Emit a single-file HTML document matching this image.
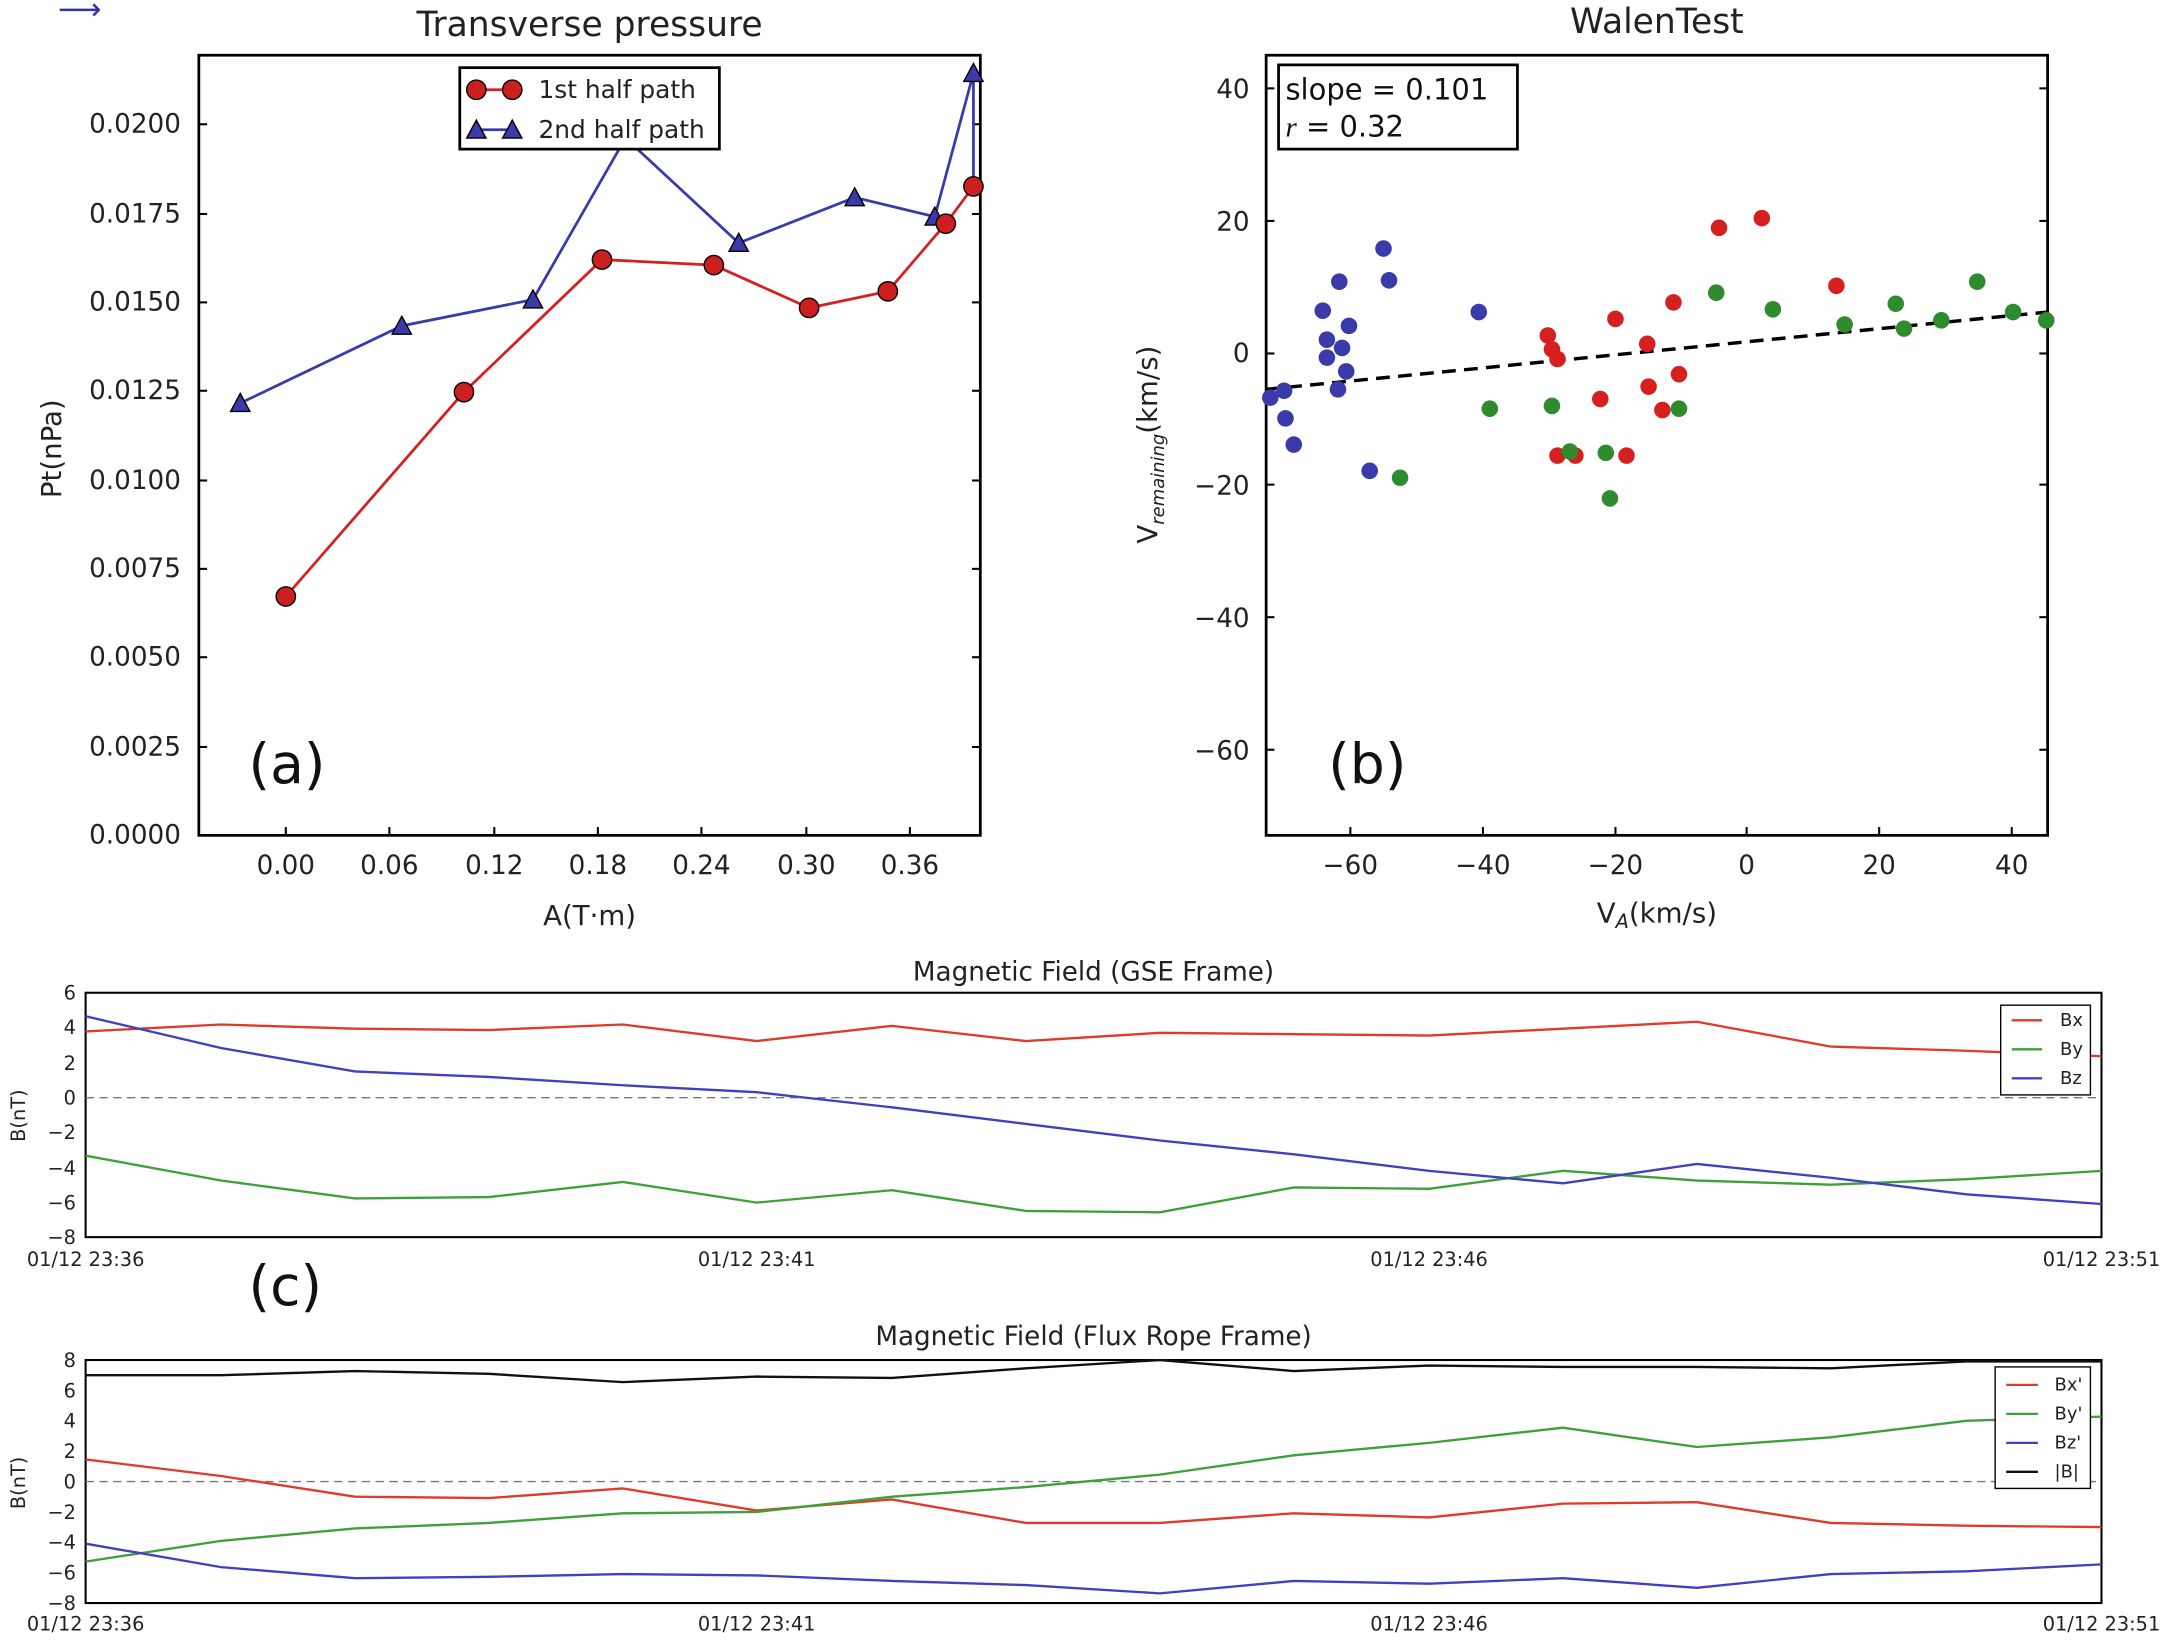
<!DOCTYPE html>
<html><head><meta charset="utf-8"><style>html,body{margin:0;padding:0;background:#fff}svg{display:block}text{font-family:"DejaVu Sans","Liberation Sans",sans-serif}</style></head>
<body>
<svg width="2165" height="1641" viewBox="0 0 1568 1188.5" xmlns="http://www.w3.org/2000/svg">
<rect width="1568" height="1188.5" fill="#fff"/>
<text x="42" y="14" font-size="22" fill="#3333aa">⟶</text>
<!-- Panel a -->
<text x="427" y="26" font-size="25" text-anchor="middle" fill="#222">Transverse pressure</text>
<rect x="144" y="40" width="566" height="565" fill="none" stroke="#000" stroke-width="2"/>
<g font-size="19" fill="#222" text-anchor="end">
<text x="131" y="611">0.0000</text><text x="131" y="547">0.0025</text><text x="131" y="482">0.0050</text><text x="131" y="418">0.0075</text><text x="131" y="354">0.0100</text><text x="131" y="289">0.0125</text><text x="131" y="225">0.0150</text><text x="131" y="161">0.0175</text><text x="131" y="96">0.0200</text>
</g>
<g stroke="#000" stroke-width="1.5">
<line x1="144" y1="541" x2="150" y2="541"/><line x1="144" y1="476" x2="150" y2="476"/><line x1="144" y1="412" x2="150" y2="412"/><line x1="144" y1="348" x2="150" y2="348"/><line x1="144" y1="283" x2="150" y2="283"/><line x1="144" y1="219" x2="150" y2="219"/><line x1="144" y1="155" x2="150" y2="155"/><line x1="144" y1="90" x2="150" y2="90"/>
<line x1="704" y1="541" x2="710" y2="541"/><line x1="704" y1="476" x2="710" y2="476"/><line x1="704" y1="412" x2="710" y2="412"/><line x1="704" y1="348" x2="710" y2="348"/><line x1="704" y1="283" x2="710" y2="283"/><line x1="704" y1="219" x2="710" y2="219"/><line x1="704" y1="155" x2="710" y2="155"/><line x1="704" y1="90" x2="710" y2="90"/>
<line x1="207" y1="605" x2="207" y2="599"/><line x1="282" y1="605" x2="282" y2="599"/><line x1="358" y1="605" x2="358" y2="599"/><line x1="433" y1="605" x2="433" y2="599"/><line x1="508" y1="605" x2="508" y2="599"/><line x1="584" y1="605" x2="584" y2="599"/><line x1="659" y1="605" x2="659" y2="599"/>
</g>
<g font-size="19" fill="#222" text-anchor="middle">
<text x="207" y="633">0.00</text><text x="282" y="633">0.06</text><text x="358" y="633">0.12</text><text x="433" y="633">0.18</text><text x="508" y="633">0.24</text><text x="584" y="633">0.30</text><text x="659" y="633">0.36</text>
<text x="427" y="670" font-size="20">A(T·m)</text>
</g>
<text transform="translate(44,325) rotate(-90)" font-size="20" text-anchor="middle" fill="#222">Pt(nPa)</text>
<polyline fill="none" stroke="#3a3aaa" stroke-width="2" points="174,292 291,236 386,217 453,100 535,176 619,143 677,157 705,53 705,135"/>
<g fill="#3a3aaa" stroke="#000" stroke-width="1">
<polygon points="174,285 181,298 167,298"/><polygon points="291,229 298,242 284,242"/><polygon points="386,210 393,223 379,223"/><polygon points="535,169 542,182 528,182"/><polygon points="619,136 626,149 612,149"/><polygon points="677,150 684,163 670,163"/><polygon points="705,46 712,59 698,59"/>
</g>
<polyline fill="none" stroke="#d62020" stroke-width="2" points="207,432 336,284 436,188 517,192 586,223 643,211 685,162 705,135"/>
<g fill="#cc1f1f" stroke="#000" stroke-width="1">
<circle cx="207" cy="432" r="7"/><circle cx="336" cy="284" r="7"/><circle cx="436" cy="188" r="7"/><circle cx="517" cy="192" r="7"/><circle cx="586" cy="223" r="7"/><circle cx="643" cy="211" r="7"/><circle cx="685" cy="162" r="7"/><circle cx="705" cy="135" r="7"/>
</g>
<rect x="333" y="49" width="188" height="59" fill="#fff" stroke="#000" stroke-width="2"/>
<line x1="343" y1="65" x2="373" y2="65" stroke="#d62020" stroke-width="2"/><circle cx="345" cy="65" r="7" fill="#cc1f1f" stroke="#000"/><circle cx="371" cy="65" r="7" fill="#cc1f1f" stroke="#000"/>
<line x1="343" y1="94" x2="373" y2="94" stroke="#3a3aaa" stroke-width="2"/><polygon points="345,87 352,100 338,100" fill="#3a3aaa" stroke="#000"/><polygon points="371,87 378,100 364,100" fill="#3a3aaa" stroke="#000"/>
<text x="390" y="71" font-size="18" fill="#222">1st half path</text>
<text x="390" y="100" font-size="18" fill="#222">2nd half path</text>
<text x="180" y="567" font-size="40" fill="#111">(a)</text>
<!-- Panel b -->
<text x="1200" y="24" font-size="25" text-anchor="middle" fill="#222">WalenTest</text>
<rect x="917" y="40" width="566" height="565" fill="none" stroke="#000" stroke-width="2"/>
<g font-size="19" fill="#222" text-anchor="end">
<text x="905" y="71">40</text><text x="905" y="167">20</text><text x="905" y="262">0</text><text x="905" y="358">−20</text><text x="905" y="454">−40</text><text x="905" y="550">−60</text>
</g>
<g stroke="#000" stroke-width="1.5">
<line x1="917" y1="64" x2="923" y2="64"/><line x1="917" y1="160" x2="923" y2="160"/><line x1="917" y1="256" x2="923" y2="256"/><line x1="917" y1="351" x2="923" y2="351"/><line x1="917" y1="447" x2="923" y2="447"/><line x1="917" y1="543" x2="923" y2="543"/>
<line x1="1477" y1="64" x2="1483" y2="64"/><line x1="1477" y1="160" x2="1483" y2="160"/><line x1="1477" y1="256" x2="1483" y2="256"/><line x1="1477" y1="351" x2="1483" y2="351"/><line x1="1477" y1="447" x2="1483" y2="447"/><line x1="1477" y1="543" x2="1483" y2="543"/>
<line x1="978" y1="605" x2="978" y2="599"/><line x1="1074" y1="605" x2="1074" y2="599"/><line x1="1170" y1="605" x2="1170" y2="599"/><line x1="1265" y1="605" x2="1265" y2="599"/><line x1="1361" y1="605" x2="1361" y2="599"/><line x1="1457" y1="605" x2="1457" y2="599"/>
</g>
<g font-size="19" fill="#222" text-anchor="middle">
<text x="978" y="633">−60</text><text x="1074" y="633">−40</text><text x="1170" y="633">−20</text><text x="1265" y="633">0</text><text x="1361" y="633">20</text><text x="1457" y="633">40</text>
<text x="1200" y="668" font-size="20">V<tspan font-size="14" font-style="italic" dy="4">A</tspan><tspan dy="-4">(km/s)</tspan></text>
</g>
<text transform="translate(838,322) rotate(-90)" font-size="20" text-anchor="middle" fill="#222">V<tspan font-size="13" font-style="italic" dy="5">remaining</tspan><tspan dy="-5">(km/s)</tspan></text>
<line x1="917" y1="282" x2="1483" y2="226" stroke="#000" stroke-width="2.5" stroke-dasharray="10,6"/>
<g fill="#3a3aaa">
<circle cx="920" cy="288" r="6"/><circle cx="930" cy="283" r="6"/><circle cx="931" cy="303" r="6"/><circle cx="937" cy="322" r="6"/><circle cx="958" cy="225" r="6"/><circle cx="961" cy="246" r="6"/><circle cx="961" cy="259" r="6"/><circle cx="970" cy="204" r="6"/><circle cx="972" cy="252" r="6"/><circle cx="969" cy="282" r="6"/><circle cx="975" cy="269" r="6"/><circle cx="977" cy="236" r="6"/><circle cx="1002" cy="180" r="6"/><circle cx="1006" cy="203" r="6"/><circle cx="992" cy="341" r="6"/><circle cx="1071" cy="226" r="6"/>
</g>
<g fill="#d62020">
<circle cx="1121" cy="243" r="6"/><circle cx="1124" cy="253" r="6"/><circle cx="1128" cy="260" r="6"/><circle cx="1128" cy="330" r="6"/><circle cx="1141" cy="330" r="6"/><circle cx="1170" cy="231" r="6"/><circle cx="1159" cy="289" r="6"/><circle cx="1193" cy="249" r="6"/><circle cx="1194" cy="280" r="6"/><circle cx="1212" cy="219" r="6"/><circle cx="1216" cy="271" r="6"/><circle cx="1204" cy="297" r="6"/><circle cx="1178" cy="330" r="6"/><circle cx="1245" cy="165" r="6"/><circle cx="1276" cy="158" r="6"/><circle cx="1330" cy="207" r="6"/>
</g>
<g fill="#2e8b2e">
<circle cx="1014" cy="346" r="6"/><circle cx="1079" cy="296" r="6"/><circle cx="1124" cy="294" r="6"/><circle cx="1137" cy="327" r="6"/><circle cx="1163" cy="328" r="6"/><circle cx="1166" cy="361" r="6"/><circle cx="1216" cy="296" r="6"/><circle cx="1243" cy="212" r="6"/><circle cx="1284" cy="224" r="6"/><circle cx="1336" cy="235" r="6"/><circle cx="1373" cy="220" r="6"/><circle cx="1379" cy="238" r="6"/><circle cx="1406" cy="232" r="6"/><circle cx="1432" cy="204" r="6"/><circle cx="1458" cy="226" r="6"/><circle cx="1482" cy="232" r="6"/>
</g>
<rect x="926" y="47" width="173" height="61" fill="#fff" stroke="#000" stroke-width="2"/>
<text x="931" y="72" font-size="21" fill="#111">slope = 0.101</text>
<text x="931" y="99" font-size="21" fill="#111"><tspan font-style="italic" font-family="Liberation Serif">r</tspan> = 0.32</text>
<text x="962" y="567" font-size="40" fill="#111">(b)</text>
<!-- Panel c -->
<text x="792" y="710" font-size="19" text-anchor="middle" fill="#222">Magnetic Field (GSE Frame)</text>
<rect x="62" y="719" width="1460" height="177" fill="none" stroke="#000" stroke-width="1.5"/>
<line x1="62" y1="795" x2="1522" y2="795" stroke="#777" stroke-width="1" stroke-dasharray="6,4"/>
<g font-size="14" fill="#222" text-anchor="end">
<text x="55" y="724">6</text><text x="55" y="749">4</text><text x="55" y="775">2</text><text x="55" y="800">0</text><text x="55" y="825">−2</text><text x="55" y="851">−4</text><text x="55" y="876">−6</text><text x="55" y="901">−8</text>
</g>
<text transform="translate(18,808) rotate(-90)" font-size="14" text-anchor="middle" fill="#222">B(nT)</text>
<g font-size="14" fill="#222" text-anchor="middle">
<text x="62" y="917">01/12 23:36</text><text x="548" y="917">01/12 23:41</text><text x="1035" y="917">01/12 23:46</text><text x="1522" y="917">01/12 23:51</text>
</g>
<polyline fill="none" stroke="#e03a2a" stroke-width="1.7" points="62,747 160,742 257,745 354,746 451,742 548,754 646,743 743,754 840,748 937,749 1035,750 1132,745 1229,740 1326,758 1424,761 1522,765"/>
<polyline fill="none" stroke="#3fa03a" stroke-width="1.7" points="62,837 160,855 257,868 354,867 451,856 548,871 646,862 743,877 840,878 937,860 1035,861 1132,848 1229,855 1326,858 1424,854 1522,848"/>
<polyline fill="none" stroke="#4040c0" stroke-width="1.7" points="62,736 160,759 257,776 354,780 451,786 548,791 646,802 743,814 840,826 937,836 1035,848 1132,857 1229,843 1326,853 1424,865 1522,872"/>
<rect x="1449" y="728" width="65" height="65" fill="#fff" stroke="#000" stroke-width="1"/>
<g font-size="13" fill="#222"><text x="1492" y="743">Bx</text><text x="1492" y="764">By</text><text x="1492" y="785">Bz</text></g>
<line x1="1457" y1="739" x2="1479" y2="739" stroke="#e03a2a" stroke-width="1.7"/><line x1="1457" y1="760" x2="1479" y2="760" stroke="#3fa03a" stroke-width="1.7"/><line x1="1457" y1="781" x2="1479" y2="781" stroke="#4040c0" stroke-width="1.7"/>
<text x="180" y="945" font-size="40" fill="#111">(c)</text>
<!-- Panel d -->
<text x="792" y="974" font-size="19" text-anchor="middle" fill="#222">Magnetic Field (Flux Rope Frame)</text>
<rect x="62" y="985" width="1460" height="176" fill="none" stroke="#000" stroke-width="1.5"/>
<line x1="62" y1="1073" x2="1522" y2="1073" stroke="#777" stroke-width="1" stroke-dasharray="6,4"/>
<g font-size="14" fill="#222" text-anchor="end">
<text x="55" y="990">8</text><text x="55" y="1012">6</text><text x="55" y="1034">4</text><text x="55" y="1056">2</text><text x="55" y="1078">0</text><text x="55" y="1100">−2</text><text x="55" y="1122">−4</text><text x="55" y="1144">−6</text><text x="55" y="1166">−8</text>
</g>
<text transform="translate(18,1074) rotate(-90)" font-size="14" text-anchor="middle" fill="#222">B(nT)</text>
<g font-size="14" fill="#222" text-anchor="middle">
<text x="62" y="1181">01/12 23:36</text><text x="548" y="1181">01/12 23:41</text><text x="1035" y="1181">01/12 23:46</text><text x="1522" y="1181">01/12 23:51</text>
</g>
<polyline fill="none" stroke="#111" stroke-width="1.7" points="62,996 160,996 257,993 354,995 451,1001 548,997 646,998 743,991 840,985 937,993 1035,989 1132,990 1229,990 1326,991 1424,986 1522,986"/>
<polyline fill="none" stroke="#e03a2a" stroke-width="1.7" points="62,1057 160,1069 257,1084 354,1085 451,1078 548,1094 646,1086 743,1103 840,1103 937,1096 1035,1099 1132,1089 1229,1088 1326,1103 1424,1105 1522,1106"/>
<polyline fill="none" stroke="#3fa03a" stroke-width="1.7" points="62,1131 160,1116 257,1107 354,1103 451,1096 548,1095 646,1084 743,1077 840,1068 937,1054 1035,1045 1132,1034 1229,1048 1326,1041 1424,1029 1522,1026"/>
<polyline fill="none" stroke="#4040c0" stroke-width="1.7" points="62,1118 160,1135 257,1143 354,1142 451,1140 548,1141 646,1145 743,1148 840,1154 937,1145 1035,1147 1132,1143 1229,1150 1326,1140 1424,1138 1522,1133"/>
<rect x="1445" y="990" width="69" height="88" fill="#fff" stroke="#000" stroke-width="1"/>
<g font-size="13" fill="#222"><text x="1488" y="1007">Bx'</text><text x="1488" y="1028">By'</text><text x="1488" y="1049">Bz'</text><text x="1488" y="1070">|B|</text></g>
<line x1="1453" y1="1003" x2="1476" y2="1003" stroke="#e03a2a" stroke-width="1.7"/><line x1="1453" y1="1024" x2="1476" y2="1024" stroke="#3fa03a" stroke-width="1.7"/><line x1="1453" y1="1045" x2="1476" y2="1045" stroke="#4040c0" stroke-width="1.7"/><line x1="1453" y1="1066" x2="1476" y2="1066" stroke="#111" stroke-width="1.7"/>
</svg>
</body></html>
